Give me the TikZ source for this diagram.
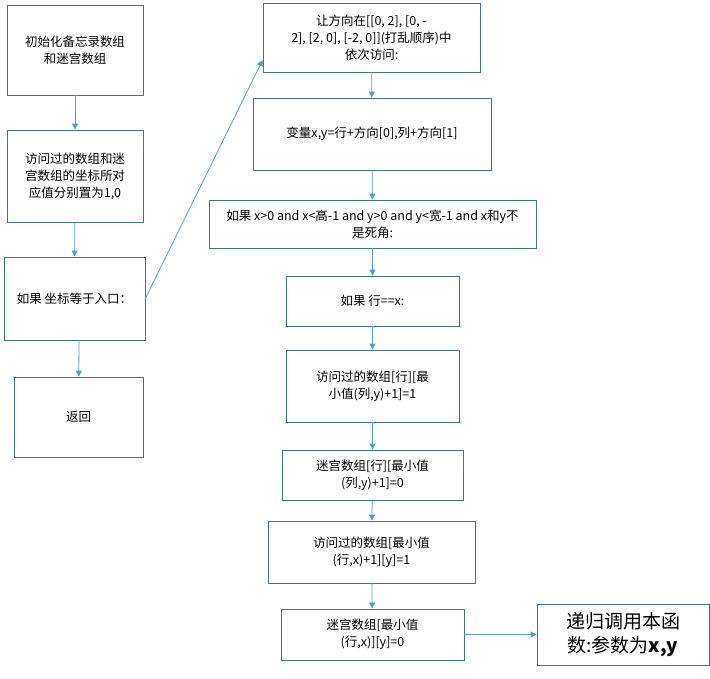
\documentclass[tikz,border=0pt]{standalone}
\usepackage{fontspec}
\setmainfont{Noto Sans CJK SC}
\usetikzlibrary{arrows.meta}
\definecolor{bd}{HTML}{41719C}
\definecolor{ar}{HTML}{5B9BD5}
\tikzset{box/.style={draw=bd,line width=0.8pt,align=center,inner sep=2pt,font=\fontsize{12.5}{17}\selectfont},
conn/.style={draw=ar,line width=0.8pt,-{Triangle[length=6pt,width=6pt]}}}
\begin{document}
\begin{tikzpicture}[x=1pt,y=-1pt]
\useasboundingbox (0,0) rectangle (710,678);
\node[box,minimum width=136pt,minimum height=90pt] (b1) at (75,50) {初始化备忘录数组\\和迷宫数组};
\node[box,minimum width=136pt,minimum height=92pt] (b2) at (75,176) {访问过的数组和迷\\宫数组的坐标所对\\应值分别置为1,0};
\node[box,minimum width=141pt,minimum height=83pt] (b3) at (74.5,298.5) {如果 坐标等于入口：};
\node[box,minimum width=129pt,minimum height=80pt] (b4) at (78.5,417) {返回};
\node[box,minimum width=217pt,minimum height=69pt] (b5) at (371.5,37.5) {让方向在[[0, 2], [0, -\\2], [2, 0], [-2, 0]](打乱顺序)中\\依次访问:};
\node[box,minimum width=238pt,minimum height=72pt] (b6) at (372,134) {变量x,y=行+方向[0],列+方向[1]};
\node[box,minimum width=327pt,minimum height=48pt] (b7) at (372.5,224) {如果 x>0 and x<高-1 and y>0 and y<宽-1 and x和y不\\是死角:};
\node[box,minimum width=173pt,minimum height=50pt] (b8) at (372.5,301) {如果 行==x:};
\node[box,minimum width=173pt,minimum height=72pt] (b9) at (372.5,386) {访问过的数组[行][最\\小值(列,y)+1]=1};
\node[box,minimum width=181pt,minimum height=50pt] (b10) at (372.5,475) {迷宫数组[行][最小值\\(列,y)+1]=0};
\node[box,minimum width=207pt,minimum height=62pt] (b11) at (371.5,552) {访问过的数组[最小值\\(行,x)+1][y]=1};
\node[box,minimum width=183pt,minimum height=51pt] (b12) at (372.5,634.5) {迷宫数组[最小值\\(行,x)][y]=0};
\node[box,minimum width=172pt,minimum height=61pt,font=\fontsize{19}{24}\selectfont] (b13) at (623,634.5) {递归调用本函\\数:参数为\textbf{x,y}};
\draw[conn] (b1.south -| 75,0) -- (b2);
\draw[conn] (b2) -- (b3);
\draw[conn] (b3.south -| 79,0) -- (b4);
\draw[conn] (b3.east) -- (b5.south west |- 0,60);
\draw[conn] (b5) -- (b6);
\draw[conn] (b6) -- (b7);
\draw[conn] (b7) -- (b8);
\draw[conn] (b8) -- (b9);
\draw[conn] (b9) -- (b10);
\draw[conn] (b10) -- (b11);
\draw[conn] (b11) -- (b12);
\draw[conn] (b12) -- (b13);
\end{tikzpicture}
\end{document}
